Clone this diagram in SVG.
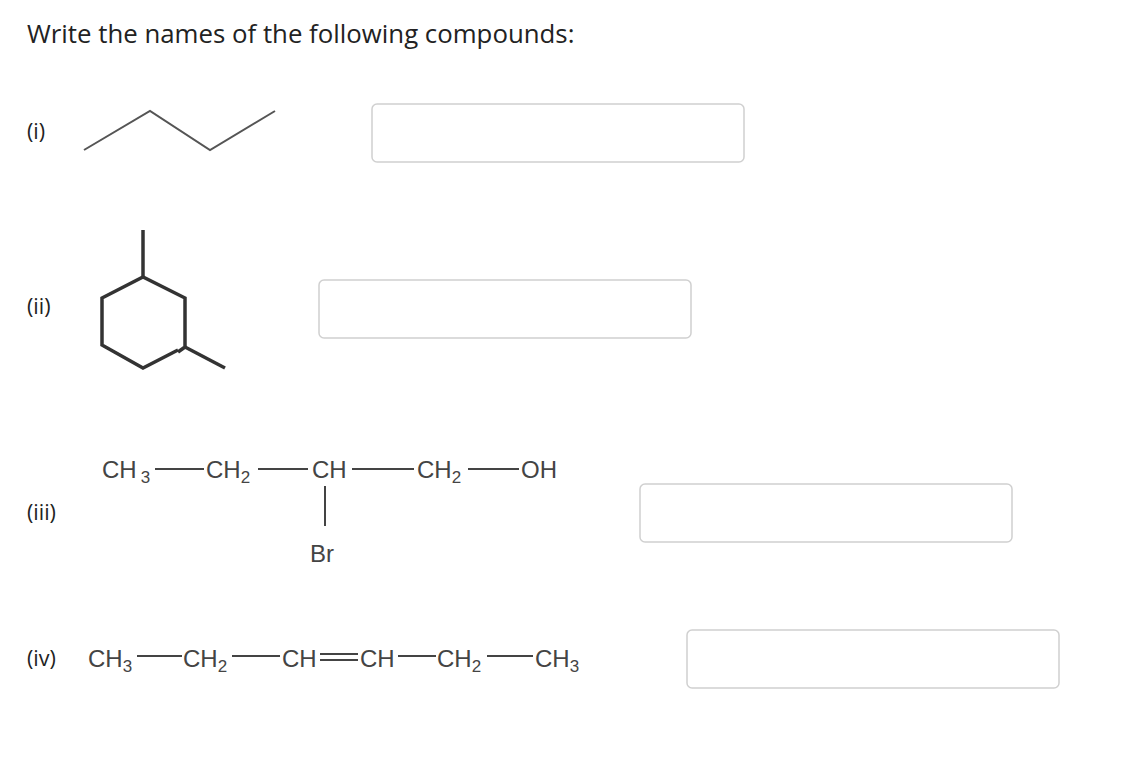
<svg xmlns="http://www.w3.org/2000/svg" width="1137" height="764" viewBox="0 0 1137 764">
<style>
.t{font-family:"Open Sans",sans-serif;fill:#222}
.c{font-family:"Liberation Sans",Arial,sans-serif;font-size:24px;fill:#444}
.s{font-size:17px}
.b{stroke:#444;stroke-width:2;fill:none}
.k{stroke:#333;stroke-width:3.5;fill:none;stroke-linejoin:miter}
.bx{fill:#fff;stroke:#d0d0d0;stroke-width:1.5}
</style>
<rect width="1137" height="764" fill="#fff"/>
<text class="t" x="27" y="43" font-size="25.8">Write the names of the following compounds:</text>
<g id="labels" class="t" font-size="21.5">
<text x="27" y="139">(i)</text>
<text x="27" y="314">(ii)</text>
<text x="27" y="520">(iii)</text>
<text x="27" y="666">(iv)</text>
</g>
<g id="boxes">
<rect class="bx" x="372" y="104" width="372" height="58" rx="5"/>
<rect class="bx" x="319" y="280" width="372" height="58" rx="5"/>
<rect class="bx" x="640" y="484" width="372" height="58" rx="5"/>
<rect class="bx" x="687" y="630" width="372" height="58" rx="5"/>
</g>
<g id="mol1"><polyline points="84,150 150,111 210,150 275,111" stroke="#555" stroke-width="2" fill="none"/></g>
<g id="mol2">
<polyline class="k" points="178,352 185,347 185,298 143,277 102,298 102,345 143,368 178,350"/>
<line class="k" x1="143" y1="277" x2="143" y2="230"/>
<line class="k" x1="185" y1="347" x2="225" y2="368"/>
</g>
<g id="mol3">
<text class="c" x="102" y="478">CH<tspan class="s" dx="4" dy="5">3</tspan></text>
<text class="c" x="206" y="478">CH<tspan class="s" dy="5">2</tspan></text>
<text class="c" x="312" y="478">CH</text>
<text class="c" x="417" y="478">CH<tspan class="s" dy="5">2</tspan></text>
<text class="c" x="521" y="478">OH</text>
<text class="c" x="310" y="562">Br</text>
</g>
<g id="mol4">
<text class="c" x="88" y="667">CH<tspan class="s" dy="5">3</tspan></text>
<text class="c" x="183" y="667">CH<tspan class="s" dy="5">2</tspan></text>
<text class="c" x="282" y="667">CH</text>
<text class="c" x="360" y="667">CH</text>
<text class="c" x="437" y="667">CH<tspan class="s" dy="5">2</tspan></text>
<text class="c" x="535" y="667">CH<tspan class="s" dy="5">3</tspan></text>
</g>
<g id="connectors" class="b">
<line x1="155" y1="469" x2="204" y2="469"/>
<line x1="258" y1="469" x2="308" y2="469"/>
<line x1="352" y1="469" x2="414" y2="469"/>
<line x1="468" y1="469" x2="519" y2="469"/>
<line x1="325" y1="486" x2="325" y2="526"/>
<line x1="137" y1="656" x2="182" y2="656"/>
<line x1="232" y1="656" x2="280" y2="656"/>
<line x1="320" y1="654" x2="358" y2="654"/>
<line x1="320" y1="660" x2="358" y2="660"/>
<line x1="398" y1="656" x2="436" y2="656"/>
<line x1="487" y1="656" x2="533" y2="656"/>
</g>
</svg>
